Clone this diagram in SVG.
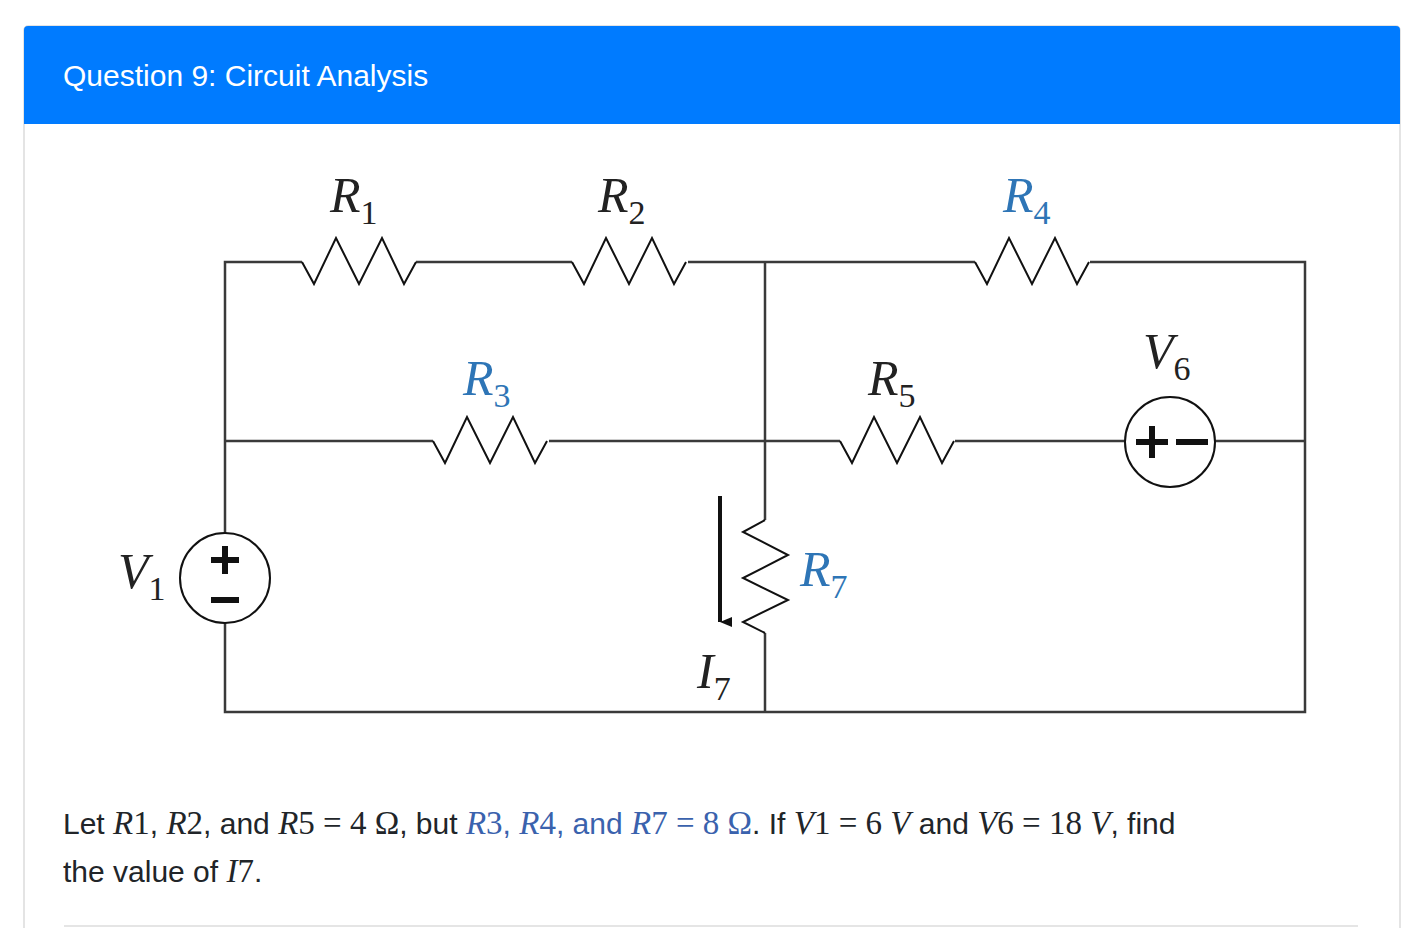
<svg xmlns="http://www.w3.org/2000/svg" width="1408" height="928" viewBox="0 0 1408 928">
<style>
.w{fill:none;stroke:#3a3a3a;stroke-width:2.5}
.z{fill:none;stroke:#111;stroke-width:2}
.lb{font-family:"Liberation Serif",serif;font-style:italic;font-size:50px;fill:#222}
.sb{font-style:normal;font-size:34px}
.bl{fill:#2e75b6}
.t{font-family:"Liberation Sans",Arial,sans-serif;font-size:30px;fill:#212529}
.m{font-family:"Liberation Serif",serif;font-size:33px}
.mi{font-style:italic}
.mb{fill:#3a62ad}
</style>
<defs>
<marker id="ah" markerWidth="10" markerHeight="12" refX="5" refY="12" orient="auto" markerUnits="userSpaceOnUse" viewBox="0 0 10 12"><path d="M0,0 L10,0 L5,12Z" fill="#111"/></marker>
</defs>
<rect x="0" y="0" width="1408" height="928" fill="#fff"/>
<rect x="24" y="26" width="1376" height="920" rx="4" fill="#fff" stroke="#dcdcdc" stroke-width="1.5"/>
<path d="M24,124 V30 a4,4 0 0 1 4,-4 H1396 a4,4 0 0 1 4,4 V124Z" fill="#007bff"/>
<text x="63" y="86" font-family="Liberation Sans,Arial,sans-serif" font-size="30" fill="#fff">Question 9: Circuit Analysis</text>
<g id="connectors">
<path class="w" d="M302,262 H225 V533 M225,623 V712 H1305 V262 H1090 M975,262 H688 M572,262 H416 M765,262 V520 M765,633 V712 M225,441 H433 M549,441 H840 M955,441 H1125 M1215,441 H1305"/>
<line x1="720" y1="496" x2="720" y2="622" stroke="#111" stroke-width="4" marker-end="url(#ah)"/>
</g>
<g id="R1"><path class="z" d="M302,262 l12,22 l22,-46 l23,46 l23,-46 l22,46 l12,-22"/><text class="lb" x="330" y="212">R<tspan class="sb" dy="12">1</tspan></text></g>
<g id="R2"><path class="z" d="M572,262 l12,22 l22,-46 l23,46 l23,-46 l22,46 l12,-22"/><text class="lb" x="598" y="212">R<tspan class="sb" dy="12">2</tspan></text></g>
<g id="R4"><path class="z" d="M975,262 l12,22 l22,-46 l23,46 l23,-46 l22,46 l12,-22"/><text class="lb bl" x="1003" y="212">R<tspan class="sb" dy="12">4</tspan></text></g>
<g id="R3"><path class="z" d="M433,441 l12,22 l22,-46 l23,46 l23,-46 l22,46 l12,-22"/><text class="lb bl" x="463" y="395">R<tspan class="sb" dy="12">3</tspan></text></g>
<g id="R5"><path class="z" d="M840,441 l12,22 l22,-46 l23,46 l23,-46 l22,46 l12,-22"/><text class="lb" x="868" y="395">R<tspan class="sb" dy="12">5</tspan></text></g>
<g id="R7"><path class="z" d="M765,520 l-22,12 l45,23 l-45,23 l45,22 l-45,22 l22,11"/><text class="lb bl" x="800" y="586">R<tspan class="sb" dy="12">7</tspan></text></g>
<g id="I7"><text class="lb" x="697" y="688">I<tspan class="sb" dy="12">7</tspan></text></g>
<g id="V1"><circle cx="225" cy="578" r="45" fill="none" stroke="#111" stroke-width="2"/>
<path d="M211,560 H239 M225,546 V574 M211,600 H239" stroke="#111" stroke-width="6"/>
<text class="lb" x="118" y="588">V<tspan class="sb" dy="12">1</tspan></text></g>
<g id="V6"><circle cx="1170" cy="442" r="45" fill="none" stroke="#111" stroke-width="2"/>
<path d="M1136,442 H1168 M1152,426 V458 M1176,442 H1208" stroke="#111" stroke-width="6"/>
<text class="lb" x="1143" y="368">V<tspan class="sb" dy="12">6</tspan></text></g>
<text class="t" x="63" y="834">Let <tspan class="m mi">R</tspan><tspan class="m" font-size="24">1</tspan>, <tspan class="m mi">R</tspan><tspan class="m" font-size="24">2</tspan>, and <tspan class="m mi">R</tspan><tspan class="m" font-size="24">5</tspan><tspan class="m"> = 4 Ω</tspan>, but <tspan class="m mi mb">R</tspan><tspan class="m mb" font-size="24">3</tspan><tspan class="mb">, </tspan><tspan class="m mi mb">R</tspan><tspan class="m mb" font-size="24">4</tspan><tspan class="mb">, and </tspan><tspan class="m mi mb">R</tspan><tspan class="m mb" font-size="24">7</tspan><tspan class="m mb"> = 8 Ω</tspan>. If <tspan class="m mi">V</tspan><tspan class="m" font-size="24">1</tspan><tspan class="m"> = 6 </tspan><tspan class="m mi">V</tspan> and <tspan class="m mi">V</tspan><tspan class="m" font-size="24">6</tspan><tspan class="m"> = 18 </tspan><tspan class="m mi">V</tspan>, find</text>
<text class="t" x="63" y="882">the value of <tspan class="m mi">I</tspan><tspan class="m" font-size="24">7</tspan>.</text>
<line x1="64" y1="926" x2="1358" y2="926" stroke="#dcdcdc" stroke-width="1.5"/>
</svg>
